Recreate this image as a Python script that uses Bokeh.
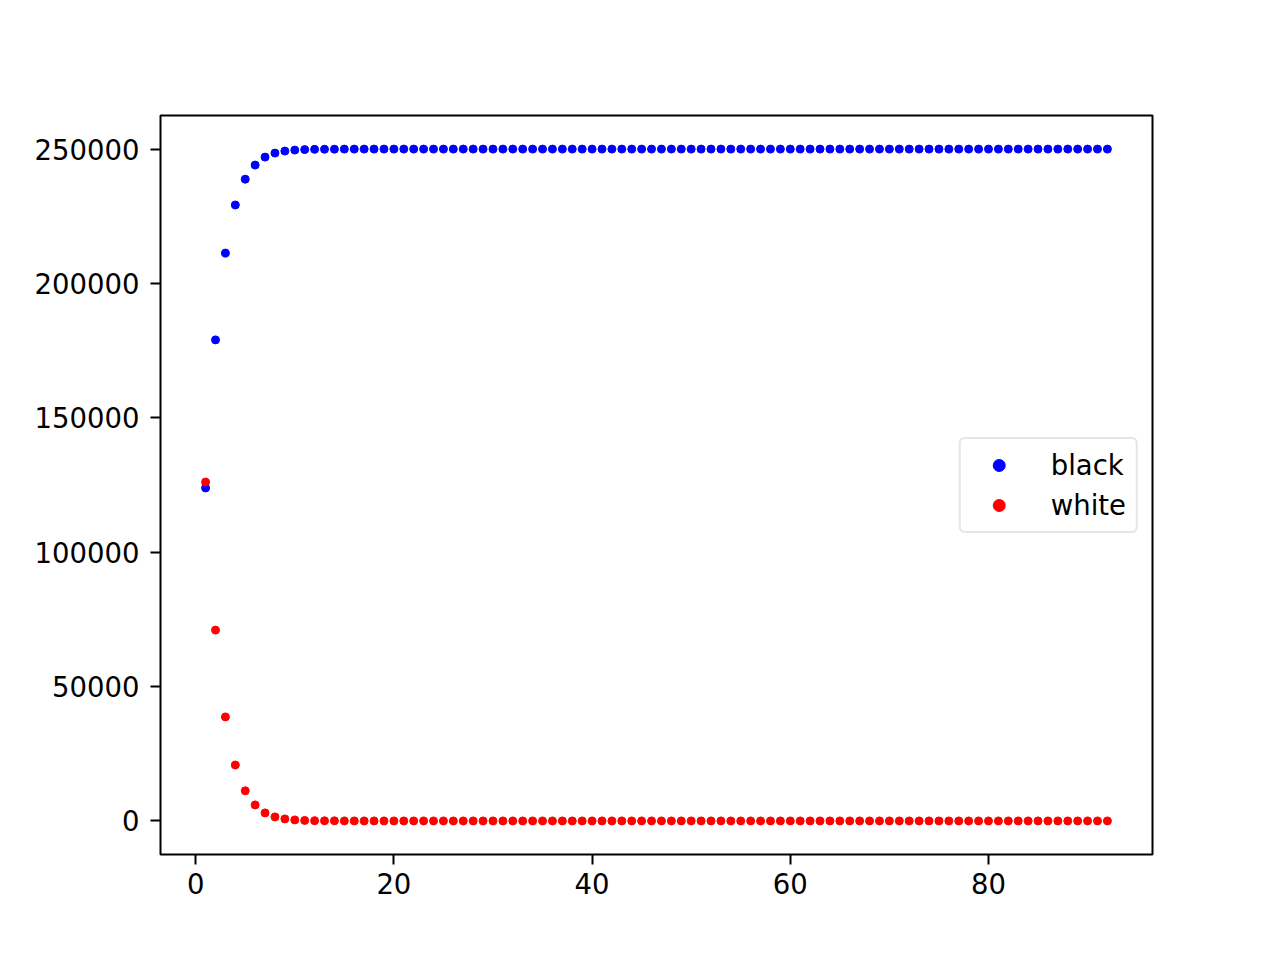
from bokeh.models import Range1d, FixedTicker, BasicTickFormatter, Legend
from bokeh.plotting import figure
from bokeh.embed import file_html
from bokeh.resources import INLINE

# step index and pixel counts per colour
steps = list(range(1, 93))
black = [123900, 179000, 211300, 229200, 238800, 244050, 247020, 248510,
         249260, 249630, 249810, 249910, 249955, 249975, 249988, 249994,
         249997, 249999] + [250000] * 74
white = [126100, 71000, 38700, 20800, 11200, 5950, 2980, 1490,
         740, 370, 190, 90, 45, 25, 12, 6,
         3, 1] + [0] * 74

x_ticks = [0, 20, 40, 60, 80]
y_ticks = [0, 50000, 100000, 150000, 200000, 250000]

p = figure(width=1264, height=944, output_backend="svg", toolbar_location=None,
           x_range=Range1d(-3.55, 96.55), y_range=Range1d(-12500, 262500),
           min_border_left=160, min_border_right=112, min_border_top=115, min_border_bottom=90)
p.background_fill_color = "white"
p.border_fill_color = "white"
p.outline_line_color = "black"
p.outline_line_width = 2
p.xgrid.visible = False
p.ygrid.visible = False

r_black = p.scatter(steps, black, size=8, color="blue")
r_white = p.scatter(steps, white, size=8, color="red")

p.xaxis.ticker = FixedTicker(ticks=x_ticks)
p.yaxis.ticker = FixedTicker(ticks=y_ticks)
p.yaxis.formatter = BasicTickFormatter(use_scientific=False)
for ax in (p.xaxis, p.yaxis):
    ax.axis_line_color = None
    ax.major_tick_line_color = "black"
    ax.major_tick_line_width = 2
    ax.major_tick_out = 10
    ax.major_tick_in = 0
    ax.minor_tick_line_color = None
    ax.major_label_text_font = "DejaVu Sans"
    ax.major_label_text_font_size = "27.5px"
    ax.major_label_text_color = "black"
p.xaxis.major_label_standoff = 8
p.yaxis.major_label_standoff = 11

legend = Legend(items=[("black", [r_black]), ("white", [r_white])],
                location="center_right", margin=14, padding=10, spacing=8,
                glyph_width=56, glyph_height=30, label_standoff=24,
                label_text_font="DejaVu Sans", label_text_font_size="27.5px",
                label_text_color="black", border_line_color="#cccccc",
                border_line_width=2, border_radius=6, background_fill_alpha=0.8)
p.add_layout(legend)

open("out.html", "w").write(file_html(p, INLINE))
